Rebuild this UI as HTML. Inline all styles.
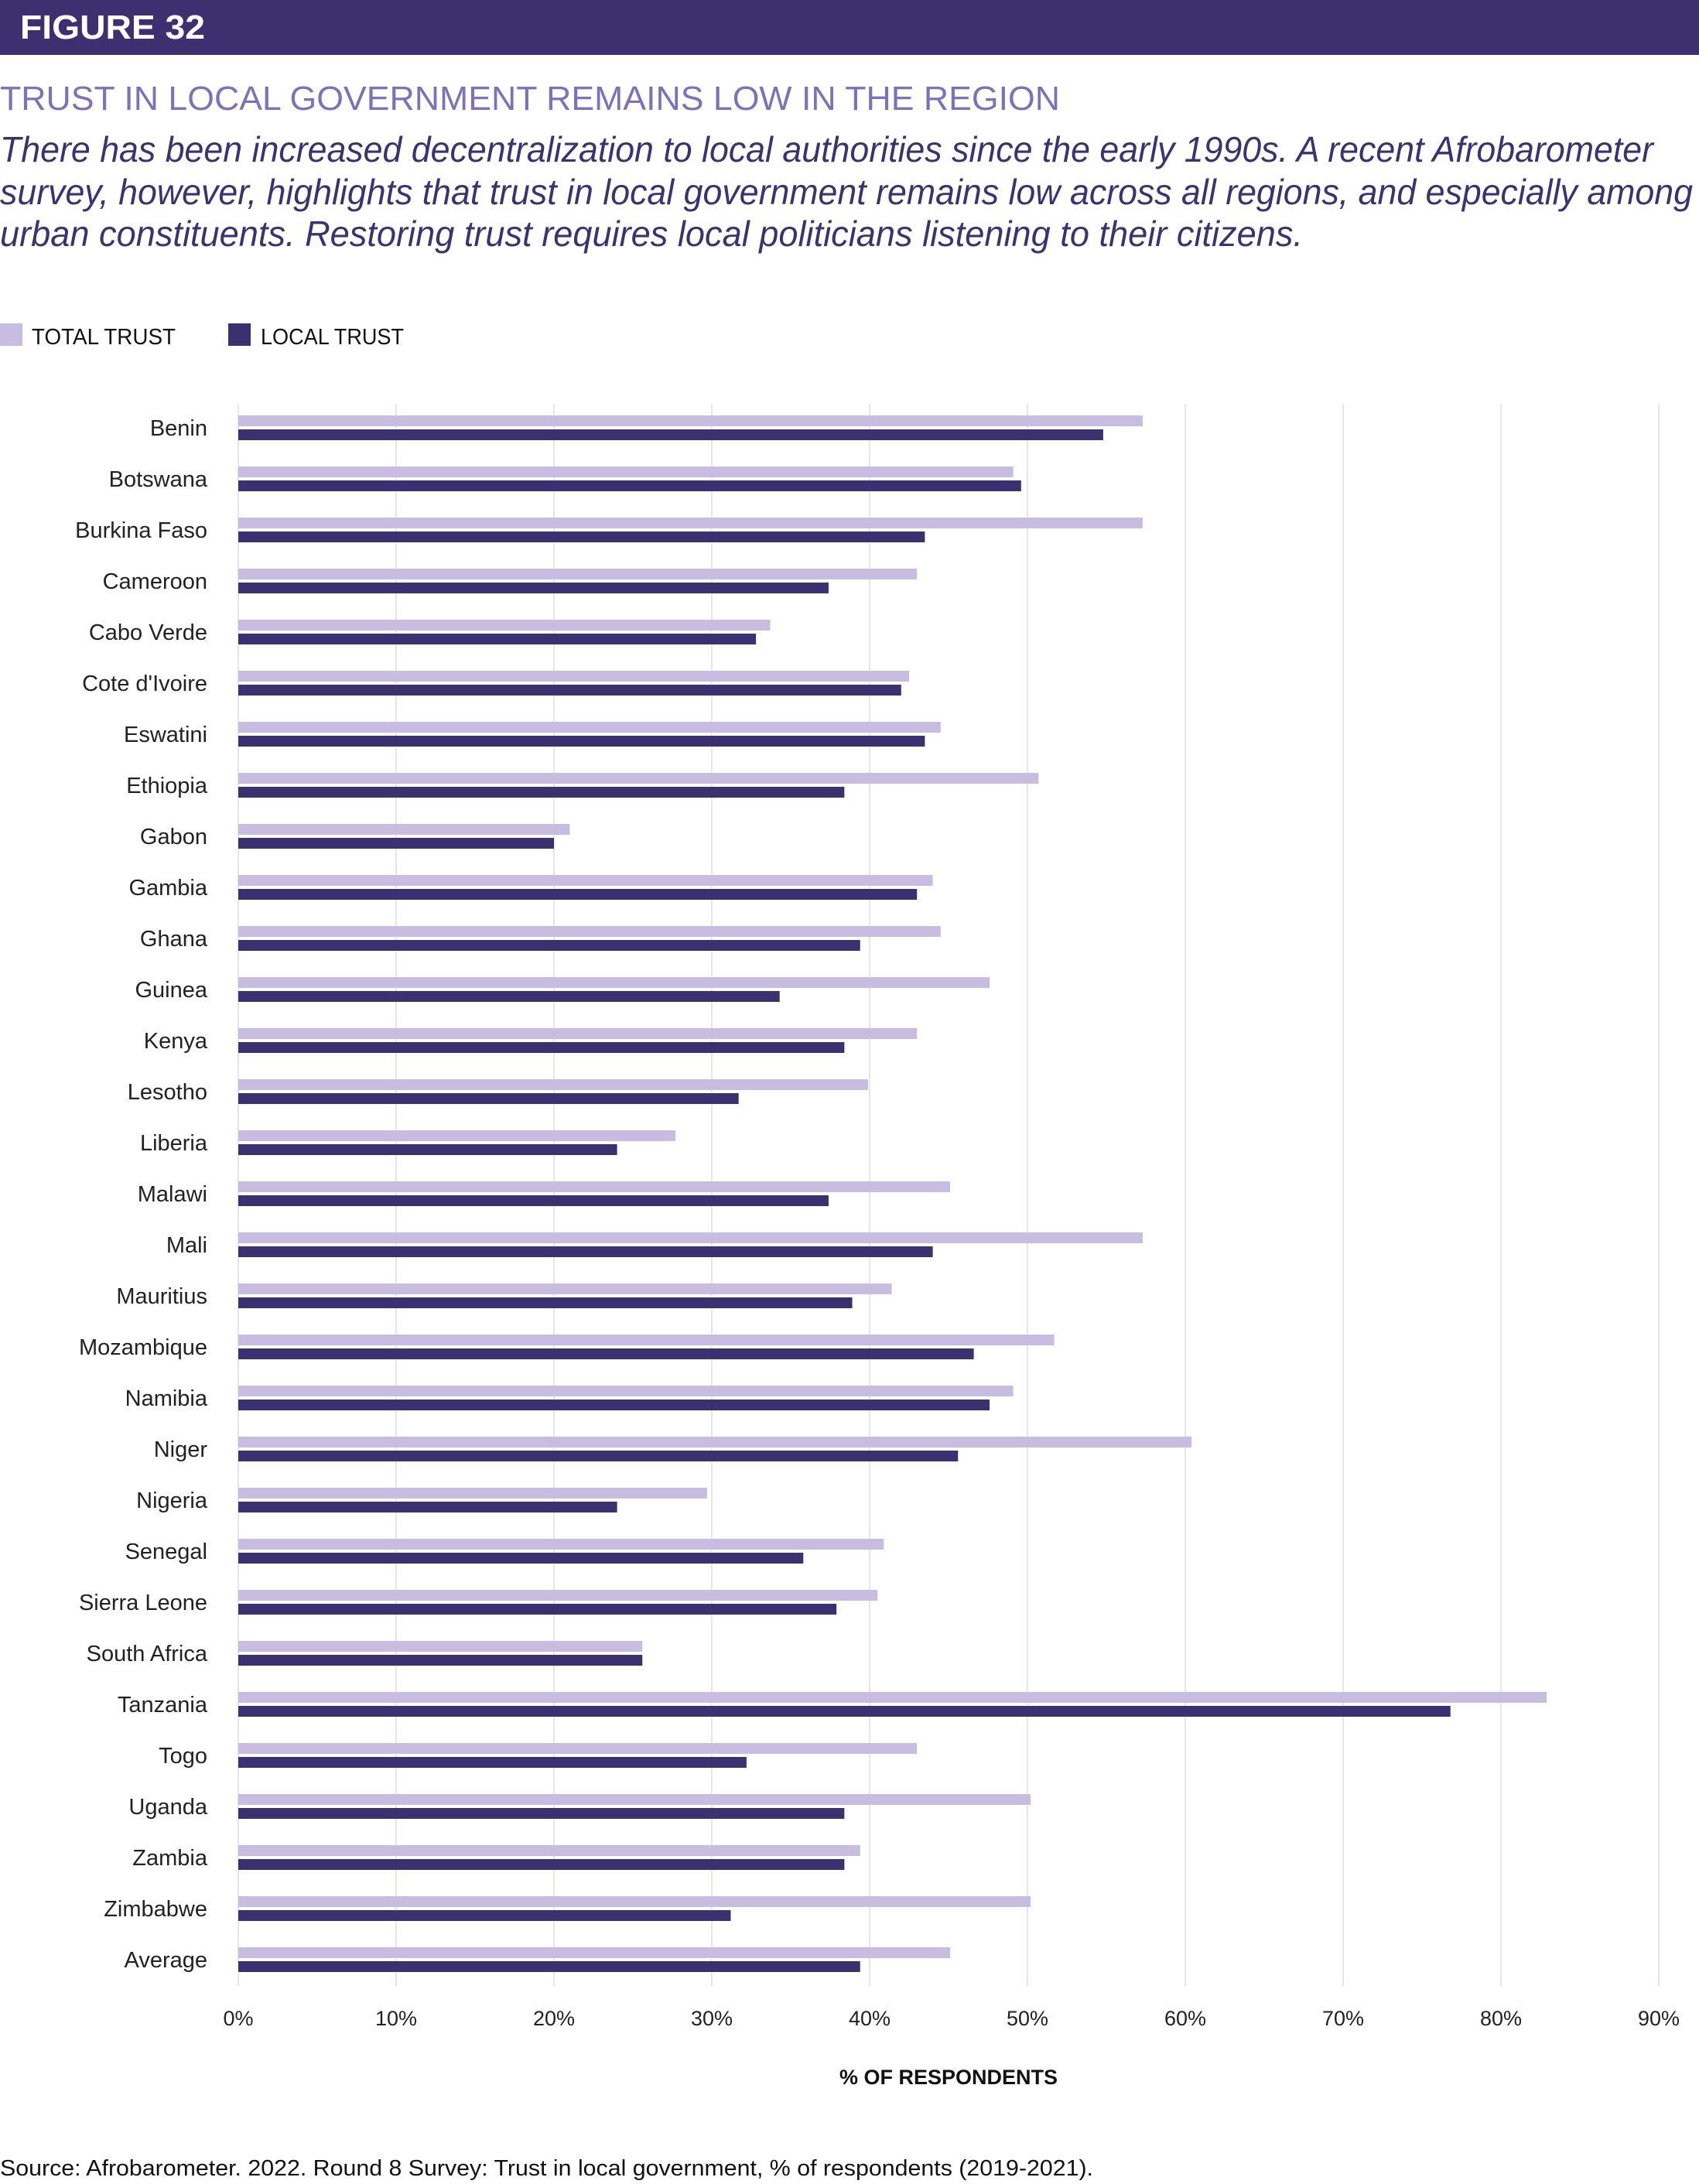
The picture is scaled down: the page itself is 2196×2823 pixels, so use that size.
<!DOCTYPE html>
<html><head><meta charset="utf-8"><style>
html,body{margin:0;padding:0;background:#fff;}
svg{display:block;}
text{font-family:"Liberation Sans",sans-serif;}
</style></head><body>
<svg id="chart" width="2196" height="2823" viewBox="0 0 2196 2823" xmlns="http://www.w3.org/2000/svg">
<rect x="0" y="0" width="2196" height="71" fill="#3c3070"/>
<text x="26" y="50" font-size="44" font-weight="bold" fill="#fff" textLength="239" lengthAdjust="spacingAndGlyphs">FIGURE 32</text>
<text x="0" y="142" font-size="44" fill="#7d72b8" textLength="1370" lengthAdjust="spacingAndGlyphs">TRUST IN LOCAL GOVERNMENT REMAINS LOW IN THE REGION</text>
<g font-size="46" font-style="italic" fill="#3d3270">
<text x="0" y="209" textLength="2137" lengthAdjust="spacingAndGlyphs">There has been increased decentralization to local authorities since the early 1990s. A recent Afrobarometer</text>
<text x="0" y="264" textLength="2188" lengthAdjust="spacingAndGlyphs">survey, however, highlights that trust in local government remains low across all regions, and especially among</text>
<text x="0" y="318" textLength="1684" lengthAdjust="spacingAndGlyphs">urban constituents. Restoring trust requires local politicians listening to their citizens.</text>
</g>
<rect x="0" y="418" width="29" height="29" fill="#c8bde0"/>
<text x="41" y="445" font-size="29" fill="#111" textLength="186" lengthAdjust="spacingAndGlyphs">TOTAL TRUST</text>
<rect x="295" y="418" width="29" height="29" fill="#3b3170"/>
<text x="337" y="445" font-size="29" fill="#111" textLength="185" lengthAdjust="spacingAndGlyphs">LOCAL TRUST</text>
<g id="grid"></g><g id="bars"></g><g id="labels"></g>
<text x="1226" y="2694" font-size="27" font-weight="bold" text-anchor="middle" fill="#111">% OF RESPONDENTS</text>
<text x="0" y="2812" font-size="29" fill="#111" textLength="1413" lengthAdjust="spacingAndGlyphs">Source: Afrobarometer. 2022. Round 8 Survey: Trust in local government, % of respondents (2019-2021).</text>
</svg>
<script>
const categories=["Benin","Botswana","Burkina Faso","Cameroon","Cabo Verde","Cote d'Ivoire","Eswatini","Ethiopia","Gabon","Gambia","Ghana","Guinea","Kenya","Lesotho","Liberia","Malawi","Mali","Mauritius","Mozambique","Namibia","Niger","Nigeria","Senegal","Sierra Leone","South Africa","Tanzania","Togo","Uganda","Zambia","Zimbabwe","Average"];
const totalTrust=[57.3,49.1,57.3,43.0,33.7,42.5,44.5,50.7,21.0,44.0,44.5,47.6,43.0,39.9,27.7,45.1,57.3,41.4,51.7,49.1,60.4,29.7,40.9,40.5,25.6,82.9,43.0,50.2,39.4,50.2,45.1];
const localTrust=[54.8,49.6,43.5,37.4,32.8,42.0,43.5,38.4,20.0,43.0,39.4,34.3,38.4,31.7,24.0,37.4,44.0,38.9,46.6,47.6,45.6,24.0,35.8,37.9,25.6,76.8,32.2,38.4,38.4,31.2,39.4];
const ticks=[0,10,20,30,40,50,60,70,80,90];
const tickLabels=["0%","10%","20%","30%","40%","50%","60%","70%","80%","90%"];
const NS="http://www.w3.org/2000/svg";
const x=v=>308+v*20.4;
const y=i=>537+i*66;
const grid=document.getElementById('grid'),bars=document.getElementById('bars'),labels=document.getElementById('labels');
ticks.forEach((t,k)=>{
  const l=document.createElementNS(NS,'line');
  l.setAttribute('x1',x(t));l.setAttribute('x2',x(t));l.setAttribute('y1',522);l.setAttribute('y2',2567);
  l.setAttribute('stroke','#e6e6e6');l.setAttribute('stroke-width','2');
  
  
  grid.appendChild(l);
  const tx=document.createElementNS(NS,'text');
  tx.setAttribute('x',x(t));tx.setAttribute('y',2618);tx.setAttribute('font-size','27');tx.setAttribute('text-anchor','middle');tx.setAttribute('fill','#222');
  tx.textContent=tickLabels[k];
  
  
  labels.appendChild(tx);
});
categories.forEach((c,i)=>{
  const a=document.createElementNS(NS,'rect');
  a.setAttribute('x',x(0));a.setAttribute('y',y(i));a.setAttribute('width',x(totalTrust[i])-x(0));a.setAttribute('height',14);a.setAttribute('fill','#c8bde0');
  
  
  bars.appendChild(a);
  const b=document.createElementNS(NS,'rect');
  b.setAttribute('x',x(0));b.setAttribute('y',y(i)+18);b.setAttribute('width',x(localTrust[i])-x(0));b.setAttribute('height',14);b.setAttribute('fill','#3b3170');
  
  
  bars.appendChild(b);
  const t=document.createElementNS(NS,'text');
  t.setAttribute('x',268);t.setAttribute('y',y(i)+26);t.setAttribute('font-size','29');t.setAttribute('text-anchor','end');t.setAttribute('fill','#222');
  t.textContent=c;
  
  
  labels.appendChild(t);
});
</script>
</body></html>
